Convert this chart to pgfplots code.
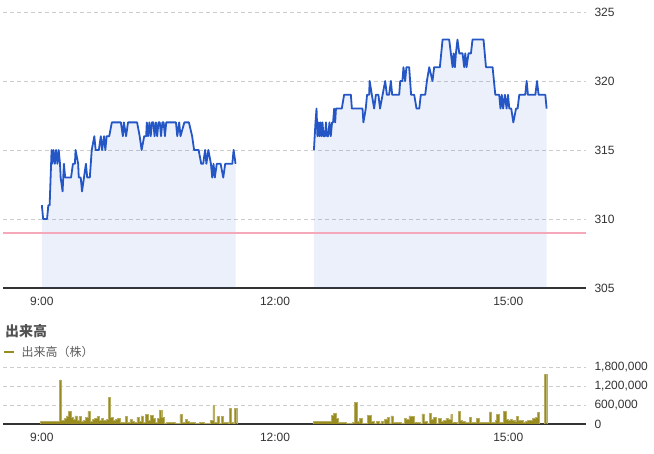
\documentclass[border=0pt]{standalone}
\usepackage{fontspec}
\setmainfont{Liberation Sans}
\newfontfamily\cjk{Noto Sans CJK JP}
\usepackage{pgfplots}
\usepackage{pgfplotstable}
\pgfplotsset{compat=1.18}

\definecolor{pricecol}{RGB}{36,87,197}
\definecolor{prevcol}{RGB}{245,168,186}
\definecolor{volcol}{RGB}{152,139,32}
\definecolor{txtcol}{RGB}{51,51,51}
\definecolor{gridcol}{RGB}{204,204,204}

% minutes after 9:00, price
\pgfplotstableread{
t p
0 311
1 310
4 310
5 311
6 311
7.5 315
8 314
9 315
10 314
11 315
12 314
13 315
14 314
14.5 313
16 312
17 314
18 313
22.5 313
24 314
25.5 314
26 315
28 314
28.5 313
30 313
31 312
32.5 313
34 314
35 313
37 313
38.5 315
40.5 316
41.5 315
44 315
45.5 316
46.5 315
48 316
49 315
50 316
52 316
54 317
61 317
62.5 316
63.3 317
65 316
66.5 317
73.5 317
75.5 316
77 315
79 316
80.5 316
81 317
82 316
83 317
84 316
85 317
86 317
87 316
88 317
89 316
90 317
91 317
92 316
93 317
94 317
95 316
96 317
103.5 317
104.5 316
106 317
107 316
110 317
113.5 317
116 316
117.5 315
121 315
123 314
124.5 314
126 315
127 314
128.5 315
130.5 314
131.5 313
132.5 314
133.5 313
135 314
138 314
140 313
141.5 314
147 314
148 315
149.5 314
}\morning

\pgfplotstableread{
t p
210 315
211.2 317
212 318
212.7 316
213.5 317
214.3 316
215 317
215.8 316
216.6 317
217.4 316
218.5 316
219.3 317
220 316
221 316
222 317
223 316
224 317
224.8 317
225.6 318
226.4 317
227 318
231.5 318
233.3 319
238.5 319
239.3 318
247.5 318
248.2 317
250 318
251 319
252.6 319
253 320
254.7 319
256.5 318
257.8 319
259.8 319
261 318
263 319
265 320
266.3 319
268 319
269.4 320
270.4 319
275.8 319
276.6 320
278.3 320
279.1 321
280.4 320
281.4 321
283.5 321
285 319
287.4 319
289.2 318
291.3 318
292.5 319
295.9 319
297.2 320
299 321
301.5 320
302.8 321
307.2 321
309.3 323
314.4 323
315.7 322
317 321
317.8 322
318.8 321
319.6 322
320.8 323
322.2 322
324.7 322
326 321
326.8 322
327.8 321
329.3 322
331.2 322
332.4 323
340.9 323
342.8 321
347.9 321
350 319
353 319
354 318
355 319
356 318
357.4 319
358.7 318
359.8 319
360.8 318
362.3 318
363.9 317
366 318
367.2 318
368.5 319
373.1 319
374.2 320
375.2 319
380.9 319
382.2 320
383.4 319
388.6 319
389.6 318
}\afternoon

% minutes after 9:00, shares (held until the next row)
\pgfplotstableread{
t v
-1 80000
13.6 1390000
15.2 126000
17 179000
18.8 253000
20.3 400000
22.4 210000
24 147000
25.5 253000
27.3 105000
28.6 232000
30.4 95000
31.9 126000
33.7 210000
35.5 400000
37.3 84000
38.9 147000
40.7 168000
42.5 232000
44.3 126000
45.8 189000
47.6 105000
49.4 147000
51.2 842000
53 210000
54.9 126000
56.7 147000
58.5 168000
60.3 63000
64.4 232000
66.2 63000
68 147000
69.8 84000
71.6 63000
73.4 210000
75.2 84000
76.7 253000
78.3 63000
80.1 295000
81.9 126000
84 274000
85.8 168000
87.6 63000
89.4 168000
90.7 442000
92.5 200000
94.3 21000
96.1 63000
100.7 42000
103.3 21000
106.6 295000
108.7 63000
110.5 147000
112.3 84000
114.1 63000
118.7 21000
121.3 42000
123.4 63000
125.2 21000
130.3 126000
131.9 589000
133.4 63000
135 232000
136.8 21000
138.3 232000
140.1 63000
143.7 21000
144.7 484000
146.3 42000
147.8 21000
148.8 505000
150.4 505000
}\volam

\pgfplotstableread{
t v
209.5 80000
223.6 284000
225.1 347000
227.2 179000
229 42000
230.8 63000
234.6 21000
239.8 63000
241.3 674000
243.1 84000
244.9 42000
245.3 179000
247.5 21000
251.4 274000
254.3 84000
256.5 21000
258.1 84000
260.1 21000
261.7 84000
263.3 21000
264.3 147000
266.3 210000
267.8 21000
269.4 253000
271.2 63000
277.1 21000
279.7 189000
281.2 147000
283.3 253000
285.3 232000
287.4 63000
288.7 42000
292 21000
293.3 316000
295.1 84000
297.2 21000
299 337000
300.8 147000
302.3 210000
304.2 21000
306.2 189000
308 84000
309.8 126000
311.9 189000
313.7 147000
315.6 300000
316.8 63000
318.8 63000
320.4 21000
321.4 400000
323 126000
324.8 84000
326.8 63000
328.5 42000
329.9 200000
331.6 63000
335.3 168000
337.4 42000
345.4 379000
347.2 63000
348.5 42000
350.1 126000
351 295000
352.8 63000
354.6 42000
356.2 410000
358.2 147000
360 105000
361.8 147000
363.4 126000
365 74000
366 232000
367.5 126000
369.4 105000
371.2 63000
372.8 84000
374.6 105000
377 126000
378.8 168000
380.6 210000
382.2 358000
383.7 0
387.8 1560000
389.7 1560000
}\volpm

\pgfplotsset{
  panel/.style={
    scale only axis,
    width=583pt,
    xmin=-30, xmax=420,
    axis x line*=bottom,
    axis y line*=right,
    x axis line style={draw=txtcol, line width=1.3pt},
    y axis line style={draw=none},
    major tick length=0pt,
    xtick={0,180,360},
    xticklabels={9:00,12:00,15:00},
    ymajorgrids=true,
    grid style={gridcol, dash pattern=on 4pt off 3pt, line width=0.8pt},
    tick label style={font=\fontsize{12}{14}\selectfont, text=txtcol},
    yticklabel style={anchor=west, xshift=5pt},
    xticklabel style={yshift=-6pt},
    /pgf/number format/assume math mode=true,
  },
}

\begin{document}
\begin{tikzpicture}
\path[use as bounding box] (0pt,0pt) rectangle (654pt,453pt);

\begin{axis}[
  panel,
  at={(3pt,165pt)}, anchor=south west,
  height=276pt,
  ymin=305, ymax=325,
  ytick={305,310,315,320,325},
]
\addplot[draw=none, fill=pricecol, fill opacity=0.09] table[x=t,y=p] {\morning} \closedcycle;
\addplot[draw=none, fill=pricecol, fill opacity=0.09] table[x=t,y=p] {\afternoon} \closedcycle;
\addplot[prevcol, line width=1.5pt] coordinates {(-30,309) (420,309)};
\addplot[pricecol, line width=1.8pt, line join=round] table[x=t,y=p] {\morning};
\addplot[pricecol, line width=1.8pt, line join=round] table[x=t,y=p] {\afternoon};
\end{axis}

\begin{axis}[
  panel,
  at={(3pt,29pt)}, anchor=south west,
  height=57pt,
  ymin=0, ymax=1800000,
  ytick={0,600000,1200000,1800000},
  yticklabels={0,{600,000},{1,200,000},{1,800,000}},
  scaled y ticks=false,
  title={\cjk\bfseries 出来高},
  title style={at={(0,1)}, anchor=west, xshift=2pt, yshift=30pt,
    font=\fontsize{14}{16}\selectfont, text=txtcol!85!white, inner sep=0pt},
  legend style={at={(0,1)}, anchor=west, xshift=0pt, yshift=15pt,
    draw=none, fill=none, inner sep=0pt,
    font=\cjk\fontsize{12}{14}\selectfont, text=txtcol!80!white,
    /tikz/every odd column/.append style={column sep=4pt}},
  legend cell align=left,
  legend image code/.code={\draw[volcol, line width=2.5pt] (0pt,0pt) -- (10pt,0pt);},
]
\addplot[const plot, fill=volcol, draw=volcol!70!white, line width=0.4pt] table[x=t,y=v] {\volam} \closedcycle;
\addlegendentry{出来高（株）}
\addplot[const plot, fill=volcol, draw=volcol!70!white, line width=0.4pt, forget plot] table[x=t,y=v] {\volpm} \closedcycle;
\end{axis}
\end{tikzpicture}
\end{document}
